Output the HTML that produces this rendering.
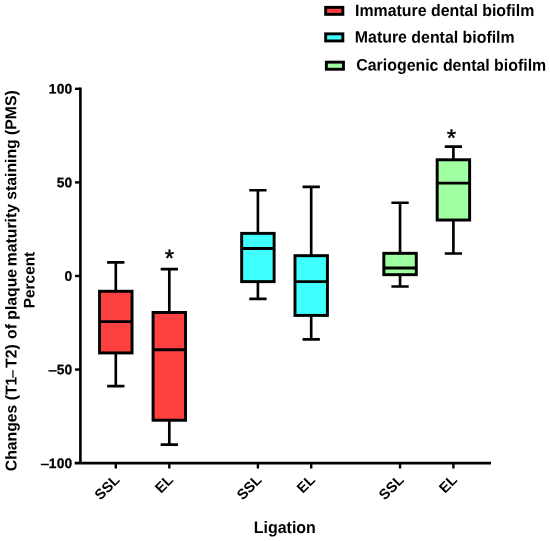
<!DOCTYPE html>
<html><head><meta charset="utf-8"><title>Box plot</title>
<style>
html,body{margin:0;padding:0;background:#fff;}
svg{display:block;font-family:"Liberation Sans",sans-serif;font-weight:bold;fill:#000;}
</style></head><body>
<svg width="550" height="541" viewBox="0 0 550 541">
<rect width="550" height="541" fill="#fff"/>

<rect x="325.65" y="7.35" width="17.20" height="7.00" fill="#ff4040" stroke="#000" stroke-width="2.9"/>
<text transform="translate(355.0 15.9) rotate(0.03) scale(1 1.04)" font-size="15.9">Immature dental biofilm</text>
<rect x="325.65" y="33.85" width="17.20" height="7.10" fill="#40ffff" stroke="#000" stroke-width="2.9"/>
<text transform="translate(354.8 42.6) rotate(0.03) scale(1 1.04)" font-size="15.9">Mature dental biofilm</text>
<rect x="326.35" y="62.15" width="17.10" height="7.10" fill="#a0ffa0" stroke="#000" stroke-width="2.9"/>
<text transform="translate(356.3 70.6) rotate(0.03) scale(1 1.04)" font-size="15.9">Cariogenic dental biofilm</text>
<g stroke="#000" stroke-width="2.85" fill="none">
<path d="M80.4 87.60 V463.1" stroke-width="2.6"/><path d="M74.7 463.1 H491"/>
<path d="M75.0 88.80 H80.4" stroke-width="2.4"/>
<path d="M75.0 182.38 H80.4" stroke-width="2.4"/>
<path d="M75.0 275.95 H80.4" stroke-width="2.4"/>
<path d="M75.0 369.53 H80.4" stroke-width="2.4"/>
<path d="M115.8 463.1 V468.5" stroke-width="2.4"/>
<path d="M169.3 463.1 V468.5" stroke-width="2.4"/>
<path d="M257.9 463.1 V468.5" stroke-width="2.4"/>
<path d="M311.2 463.1 V468.5" stroke-width="2.4"/>
<path d="M400.05 463.1 V468.5" stroke-width="2.4"/>
<path d="M453.4 463.1 V468.5" stroke-width="2.4"/>
</g>
<text transform="translate(72.2 93.60) rotate(0.03)" font-size="13.8" letter-spacing="0.1" text-anchor="end" stroke="#000" stroke-width="0.25">100</text>
<text transform="translate(72.2 187.18) rotate(0.03)" font-size="13.8" letter-spacing="0.1" text-anchor="end" stroke="#000" stroke-width="0.25">50</text>
<text transform="translate(72.2 280.75) rotate(0.03)" font-size="13.8" letter-spacing="0.1" text-anchor="end" stroke="#000" stroke-width="0.25">0</text>
<text transform="translate(72.2 374.33) rotate(0.03)" font-size="13.8" letter-spacing="0.1" text-anchor="end" stroke="#000" stroke-width="0.25"><tspan font-weight="normal" stroke="#000" stroke-width="0.35">–</tspan>50</text>
<text transform="translate(72.2 467.90) rotate(0.03)" font-size="13.8" letter-spacing="0.1" text-anchor="end" stroke="#000" stroke-width="0.25"><tspan font-weight="normal" stroke="#000" stroke-width="0.35">–</tspan>100</text>
<g stroke="#000" stroke-width="2.95">
<path d="M115.8 262.3 V386.1 M107.15 262.3 H124.45 M107.15 386.1 H124.45" fill="none" stroke-width="2.65"/>
<rect x="99.57" y="291.28" width="32.45" height="61.65" fill="#ff4040"/>
<path d="M99.57 321.6 H132.03"/>
</g>
<g stroke="#000" stroke-width="2.95">
<path d="M169.3 269.1 V444.6 M160.65 269.1 H177.95 M160.65 444.6 H177.95" fill="none" stroke-width="2.65"/>
<rect x="153.08" y="312.48" width="32.45" height="107.75" fill="#ff4040"/>
<path d="M153.08 349.65 H185.53"/>
</g>
<g stroke="#000" stroke-width="2.95">
<path d="M257.9 190.2 V298.8 M249.25 190.2 H266.55 M249.25 298.8 H266.55" fill="none" stroke-width="2.65"/>
<rect x="241.67" y="233.38" width="32.45" height="48.25" fill="#40ffff"/>
<path d="M241.67 248.4 H274.12"/>
</g>
<g stroke="#000" stroke-width="2.95">
<path d="M311.2 186.8 V339.4 M302.55 186.8 H319.85 M302.55 339.4 H319.85" fill="none" stroke-width="2.65"/>
<rect x="294.98" y="255.67" width="32.45" height="59.75" fill="#40ffff"/>
<path d="M294.98 281.6 H327.42"/>
</g>
<g stroke="#000" stroke-width="2.95">
<path d="M400.05 202.7 V286.5 M391.40 202.7 H408.70 M391.40 286.5 H408.70" fill="none" stroke-width="2.65"/>
<rect x="383.83" y="253.32" width="32.45" height="21.35" fill="#a0ffa0"/>
<path d="M383.83 267.9 H416.27"/>
</g>
<g stroke="#000" stroke-width="2.95">
<path d="M453.4 146.6 V253.5 M444.75 146.6 H462.05 M444.75 253.5 H462.05" fill="none" stroke-width="2.65"/>
<rect x="437.18" y="159.78" width="32.45" height="60.25" fill="#a0ffa0"/>
<path d="M437.18 183.1 H469.62"/>
</g>
<text transform="translate(169.5 266.3) rotate(0.03)" font-size="24" font-weight="normal" stroke="#000" stroke-width="0.4" text-anchor="middle">*</text>
<text transform="translate(451.4 146.0) rotate(0.03)" font-size="24" font-weight="normal" stroke="#000" stroke-width="0.4" text-anchor="middle">*</text>
<text transform="translate(120.50 480.8) rotate(-45)" font-size="14.5" text-anchor="end">SSL</text>
<text transform="translate(174.00 480.8) rotate(-45)" font-size="14.5" text-anchor="end">EL</text>
<text transform="translate(262.60 480.8) rotate(-45)" font-size="14.5" text-anchor="end">SSL</text>
<text transform="translate(315.90 480.8) rotate(-45)" font-size="14.5" text-anchor="end">EL</text>
<text transform="translate(404.75 480.8) rotate(-45)" font-size="14.5" text-anchor="end">SSL</text>
<text transform="translate(458.10 480.8) rotate(-45)" font-size="14.5" text-anchor="end">EL</text>
<text transform="translate(284.8 532.9) rotate(0.03) scale(1 1.04)" font-size="16" text-anchor="middle">Ligation</text>
<text transform="translate(16.4 280.7) rotate(-90.03)" x="-190.52" font-size="15.75">Changes (T1<tspan font-weight="normal" font-size="13.2" dx="-0.7" dy="-0.3" stroke="#000" stroke-width="0.3">–</tspan><tspan dx="2.1" dy="0.3">T2)</tspan><tspan dx="1"> of plaque</tspan><tspan dx="-1.6"> maturity staining (PMS)</tspan></text>
<text transform="translate(34.6 280) rotate(-90.03)" font-size="15.4" text-anchor="middle">Percent</text>
</svg></body></html>
